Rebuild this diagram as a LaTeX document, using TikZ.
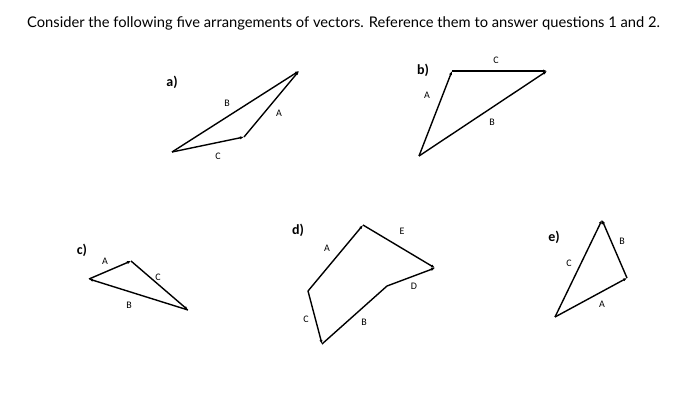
\documentclass[tikz,border=0pt]{standalone}
\usepackage{fontspec}
\setmainfont{Lato}
\newfontfamily\figfont{Carlito}
\usetikzlibrary{calc}
\usetikzlibrary{arrows.meta}
\tikzstyle{vec} = [-{Latex[length=4pt,width=3.2pt]}, line width=1.4pt, line join=round]
\tikzstyle{veclabel} = [font=\figfont\fontsize{10}{11}\selectfont, inner sep=0pt]
\tikzstyle{partlabel} = [font=\figfont\fontsize{14}{16}\selectfont\bfseries, inner sep=0pt]

\begin{document}
\begin{tikzpicture}[x=1pt, y=-1pt]
\useasboundingbox (0,0) rectangle (700,414);
\node[anchor=base west, inner sep=0pt, font=\fontsize{14.7}{16}\selectfont] (title) at (27,28)
{Consider the following five arrangements of vectors. Reference them to answer questions 1 and 2.};

% a)
\node[partlabel] (a_lbl) at (172,82) {a)};
\coordinate (a_start) at (172,152);
\coordinate (a_mid) at (244,137);
\coordinate (a_end) at (299,71);
\draw[vec] (a_start) -- (a_mid);
\draw[vec] (a_mid) -- (a_end);
\draw[vec] (a_start) -- (a_end);
\node[veclabel] (a_A) at (279,113) {A};
\node[veclabel] (a_B) at (227,103) {B};
\node[veclabel] (a_C) at (218,156) {C};

% b)
\node[partlabel] (b_lbl) at (423,70) {b)};
\coordinate (b_start) at (419,156);
\coordinate (b_mid) at (452,71);
\coordinate (b_end) at (547,71);
\draw[vec] (b_start) -- (b_mid);
\draw[vec] (b_mid) -- (b_end);
\draw[vec] (b_start) -- (b_end);
\node[veclabel] (b_A) at (427,95) {A};
\node[veclabel] (b_B) at (492,122) {B};
\node[veclabel] (b_C) at (496,60) {C};

% c)
\node[partlabel] (c_lbl) at (82,250) {c)};
\coordinate (c_left) at (89,279);
\coordinate (c_top) at (131,261);
\coordinate (c_right) at (188,310);
\draw[vec] (c_left) -- (c_top);
\draw[vec] (c_top) -- (c_right);
\draw[vec] (c_right) -- (c_left);
\node[veclabel] (c_A) at (105,261) {A};
\node[veclabel] (c_B) at (129,305) {B};
\node[veclabel] (c_C) at (158,277) {C};

% d)
\node[partlabel] (d_lbl) at (298,230) {d)};
\coordinate (d_left) at (308,291);
\coordinate (d_top) at (363,225);
\coordinate (d_right) at (435,268);
\coordinate (d_mid) at (387,286);
\coordinate (d_bottom) at (322,344);
\draw[vec] (d_left) -- (d_top);
\draw[vec] (d_top) -- (d_right);
\draw[vec] (d_left) -- (d_bottom);
\draw[line width=1.4pt] (d_bottom) -- (d_mid);
\draw[vec] (d_mid) -- (d_right);
\node[veclabel] (d_A) at (327,248) {A};
\node[veclabel] (d_B) at (364,322) {B};
\node[veclabel] (d_C) at (306,319) {C};
\node[veclabel] (d_D) at (414,286) {D};
\node[veclabel] (d_E) at (402,231) {E};

% e)
\node[partlabel] (e_lbl) at (554,237) {e)};
\coordinate (e_start) at (555,317);
\coordinate (e_right) at (627,278);
\coordinate (e_top) at (602,220);
\draw[vec] (e_start) -- (e_right);
\draw[vec] (e_right) -- (e_top);
\draw[vec] (e_start) -- (e_top);
\node[veclabel] (e_A) at (602,304) {A};
\node[veclabel] (e_B) at (622,241) {B};
\node[veclabel] (e_C) at (569,263) {C};
\end{tikzpicture}
\end{document}
